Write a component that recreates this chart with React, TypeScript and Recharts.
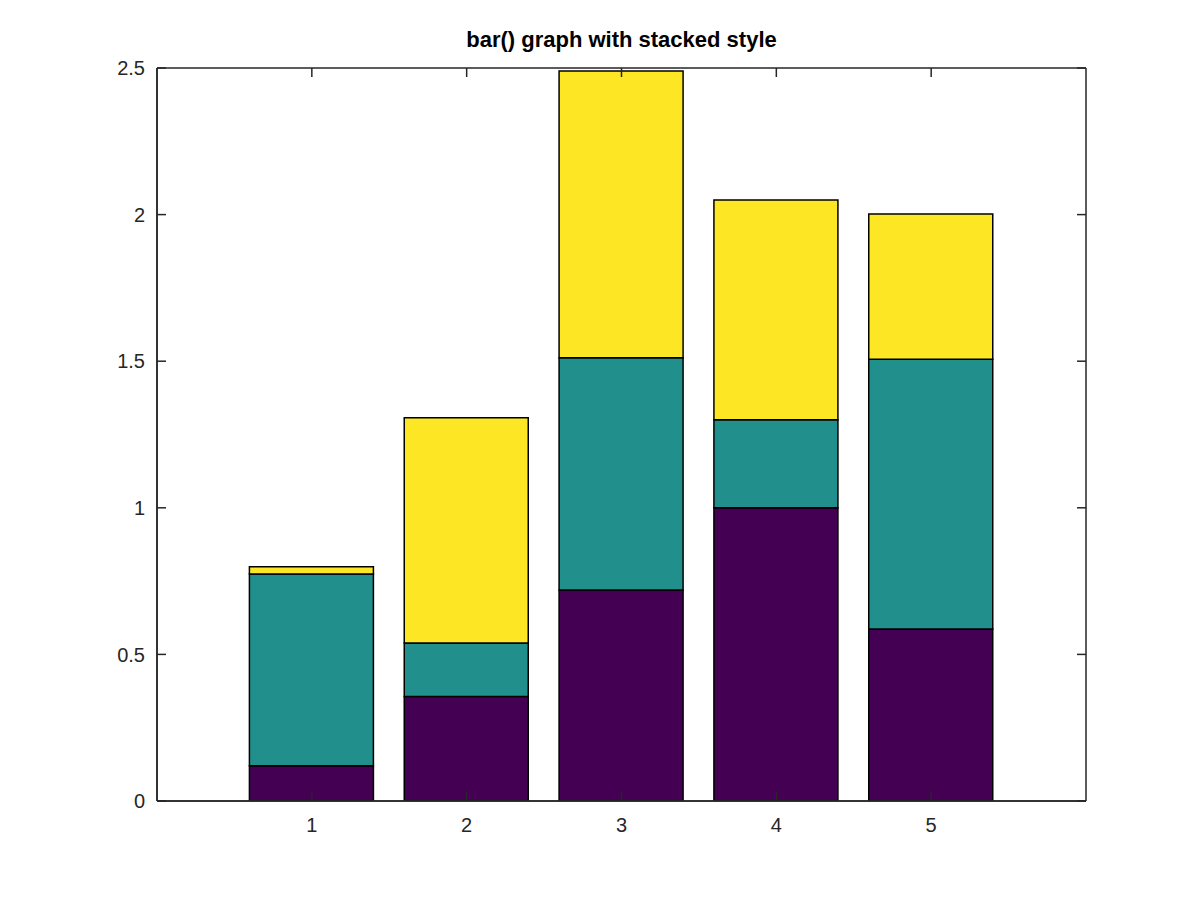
import React from "react";
import { BarChart, Bar, XAxis, YAxis } from "recharts";

const categories = [1, 2, 3, 4, 5];
const series1 = [0.12, 0.356, 0.72, 1.0, 0.587];
const series2 = [0.654, 0.183, 0.792, 0.3, 0.92];
const series3 = [0.025, 0.768, 0.978, 0.75, 0.495];
const yTicks = [0, 0.5, 1, 1.5, 2, 2.5];

const data = categories.map((x, i) => ({
  x,
  s1: series1[i],
  s2: series2[i],
  s3: series3[i],
}));

const font = "'Liberation Sans', Arial, sans-serif";
const axisColor = "#262626";
const tickStyle = { fill: axisColor, fontSize: 20, fontFamily: font };
const blank = () => "";

const App = () => {
  return (
    <div style={{ position: "absolute", left: 0, top: 0, width: 1200, height: 900, background: "#fff" }}>
      <div
        style={{
          position: "absolute",
          left: 157,
          width: 929,
          top: 27,
          lineHeight: "26px",
          textAlign: "center",
          fontFamily: font,
          fontWeight: "bold",
          fontSize: 22,
          color: "#000",
        }}
      >
        bar() graph with stacked style
      </div>
      <BarChart
        width={1200}
        height={900}
        data={data}
        margin={{ top: 68, right: 114, bottom: 69, left: 97 }}
      >
        {/* labelled axes, no tick marks */}
        <XAxis
          dataKey="x"
          type="number"
          domain={[0, 6]}
          ticks={categories}
          allowDataOverflow
          height={30}
          stroke={axisColor}
          strokeWidth={1.5}
          tickLine={false}
          tickSize={0}
          tickMargin={17}
          tick={tickStyle}
        />
        <YAxis
          type="number"
          domain={[0, 2.5]}
          ticks={yTicks}
          allowDataOverflow
          width={60}
          stroke={axisColor}
          strokeWidth={1.5}
          tickLine={false}
          tickSize={0}
          tickMargin={12}
          tick={tickStyle}
        />
        {/* mirrored axes: inward tick marks on all four sides */}
        <XAxis
          xAxisId="bm"
          orientation="bottom"
          dataKey="x"
          type="number"
          domain={[0, 6]}
          ticks={categories}
          allowDataOverflow
          height={1}
          mirror
          stroke={axisColor}
          strokeWidth={1.5}
          tickSize={9}
          tickFormatter={blank}
        />
        <XAxis
          xAxisId="top"
          orientation="top"
          dataKey="x"
          type="number"
          domain={[0, 6]}
          ticks={categories}
          allowDataOverflow
          height={1}
          mirror
          stroke={axisColor}
          strokeWidth={1.5}
          tickSize={9}
          tickFormatter={blank}
        />
        <YAxis
          yAxisId="lm"
          orientation="left"
          type="number"
          domain={[0, 2.5]}
          ticks={yTicks}
          allowDataOverflow
          width={1}
          mirror
          stroke={axisColor}
          strokeWidth={1.5}
          tickSize={9}
          tickFormatter={blank}
        />
        <YAxis
          yAxisId="right"
          orientation="right"
          type="number"
          domain={[0, 2.5]}
          ticks={yTicks}
          allowDataOverflow
          width={1}
          mirror
          stroke={axisColor}
          strokeWidth={1.5}
          tickSize={9}
          tickFormatter={blank}
        />
        <Bar dataKey="s1" stackId="a" fill="#440154" stroke="#000" strokeWidth={1.5} barSize={124} isAnimationActive={false} />
        <Bar dataKey="s2" stackId="a" fill="#21908d" stroke="#000" strokeWidth={1.5} barSize={124} isAnimationActive={false} />
        <Bar dataKey="s3" stackId="a" fill="#fde725" stroke="#000" strokeWidth={1.5} barSize={124} isAnimationActive={false} />
      </BarChart>
    </div>
  );
};

export default App;
